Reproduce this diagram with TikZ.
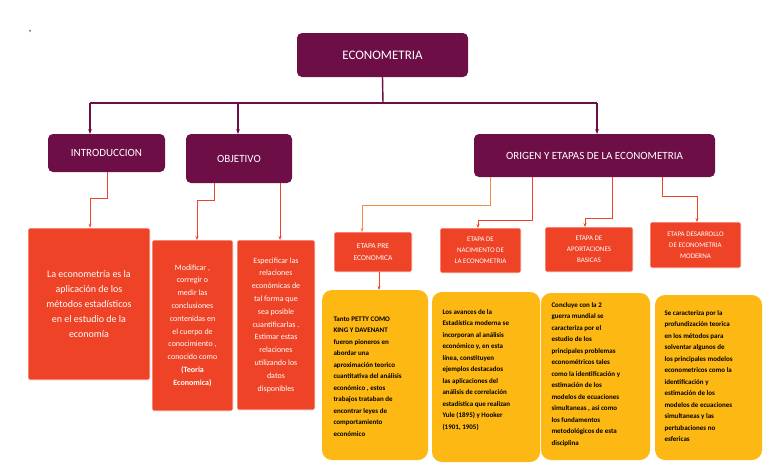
\documentclass[tikz,border=0pt]{standalone}
\usepackage{fontspec}
\setmainfont{Carlito}
\usetikzlibrary{arrows.meta}
\definecolor{mag}{HTML}{6D0E47}
\definecolor{red1}{HTML}{EE4326}
\definecolor{yel}{HTML}{FDB813}
\definecolor{lor}{HTML}{F58A4B}
\tikzset{
 mbox/.style={fill=mag,rounded corners=5pt,text=white,align=center},
 rbox/.style={fill=red1,rounded corners=2pt,text=white,align=center,draw=white,line width=0.6pt},
 ybox/.style={fill=yel,rounded corners=10pt,text=black,align=left,font=\fontsize{7}{11.5}\selectfont\bfseries},
 mline/.style={draw=mag,line width=1.4pt,-{Stealth[length=5pt]}},
 rline/.style={draw=red1,line width=0.8pt,-{Stealth[length=4pt]}},
}
\begin{document}
\begin{tikzpicture}[x=1pt,y=-1pt]
\useasboundingbox[fill=white] (0,0) rectangle (768,466);
\node at (30,32) {,};
% magenta boxes
\node[mbox,minimum width=171pt,minimum height=44pt,font=\fontsize{13}{15}\selectfont] (eco) at (382.5,55) {ECONOMETRIA};
\node[mbox,minimum width=117pt,minimum height=38pt,font=\fontsize{11}{13}\selectfont] (intro) at (106.5,153) {INTRODUCCION};
\node[mbox,minimum width=106pt,minimum height=49pt,font=\fontsize{11}{13}\selectfont] (obj) at (239,158.5) {OBJETIVO};
\node[mbox,minimum width=241pt,minimum height=43pt,font=\fontsize{11}{13}\selectfont] (ori) at (594.5,155.5) {ORIGEN Y ETAPAS DE LA ECONOMETRIA};
% top connectors
\coordinate (j) at (383,103);
\draw[draw=mag,line width=1.4pt] (eco.south) -- (j);
\draw[draw=mag,line width=1.4pt] (90,103) -- (597,103);
\draw[mline] (90,103) -- (90,134);
\draw[mline] (238,103) -- (238,134);
\draw[mline] (597,103) -- (597,134);
% red boxes
\node[rbox,minimum width=122pt,minimum height=152pt,font=\fontsize{10}{15}\selectfont] (r1) at (89,304) {La econometría es la\\aplicación de los\\métodos estadísticos\\en el estudio de la\\economía};
\node[rbox,minimum width=81pt,minimum height=171pt,font=\fontsize{8}{12.8}\selectfont] (r2) at (192.5,325.5) {Modificar ,\\corregir o\\medir las\\conclusiones\\contenidas en\\el cuerpo de\\conocimiento ,\\conocido como\\\textbf{(Teoria}\\\textbf{Economica)}};
\node[rbox,minimum width=78pt,minimum height=170pt,font=\fontsize{8}{12.8}\selectfont] (r3) at (276,325) {Especificar las\\relaciones\\económicas de\\tal forma que\\sea posible\\cuantificarlas .\\Estimar estas\\relaciones\\utilizando los\\datos\\disponibles};
\draw[rline,-] (107,172) -- (107,198) -- (90,198);
\draw[rline] (90,198) -- (r1.north -| 90,0);
\draw[rline,-] (214,183) -- (214,200) -- (197,200);
\draw[rline] (197,200) -- (197,240);
\draw[rline] (280,183) -- (280,240);
% etapa boxes
\node[rbox,minimum width=78pt,minimum height=40pt,font=\fontsize{7.5}{12}\selectfont] (e1) at (373,252) {ETAPA PRE\\ECONOMICA};
\node[rbox,minimum width=81pt,minimum height=45pt,font=\fontsize{7}{11}\selectfont] (e2) at (480.5,250.5) {ETAPA DE\\NACIMIENTO DE\\LA ECONOMETRIA};
\node[rbox,minimum width=88pt,minimum height=45pt,font=\fontsize{7}{11}\selectfont] (e3) at (589,249.5) {ETAPA DE\\APORTACIONES\\BASICAS};
\node[rbox,minimum width=91pt,minimum height=46pt,font=\fontsize{7}{11}\selectfont] (e4) at (695.5,245) {ETAPA DESARROLLO\\DE ECONOMETRIA\\MODERNA};
\draw[draw=lor,line width=0.8pt,-{Stealth[length=4pt]}] (490,177) -- (490,205) -- (362,205) -- (362,232);
\draw[rline] (532,177) -- (532,220) -- (478,220) -- (478,228);
\draw[rline] (612,177) -- (612,218) -- (585,218) -- (585,227);
\draw[rline] (662,177) -- (662,196) -- (697,196) -- (697,222);
% yellow boxes
\node[ybox,minimum width=106pt,minimum height=170pt] (y1) at (375,375) {};
\node[ybox,minimum width=108pt,minimum height=170pt] (y2) at (486,377) {};
\node[ybox,minimum width=109pt,minimum height=167pt] (y3) at (595.5,376.5) {};
\node[ybox,minimum width=107pt,minimum height=165pt] (y4) at (708.5,377.5) {};
\draw[rline] (e1.south -| 379,0) -- (379,290);
\node[ybox,fill=none,anchor=north west] at (330,313) {Tanto PETTY COMO\\KING Y DAVENANT\\fueron pioneros en\\abordar una\\aproximación teorico\\cuantitativa del análisis\\económico , estos\\trabajos trataban de\\encontrar leyes de\\comportamiento\\económico};
\node[ybox,fill=none,anchor=north west] at (439,306) {Los avances de la\\Estadística moderna se\\incorporan al análisis\\económico y, en esta\\línea, constituyen\\ejemplos destacados\\las aplicaciones del\\análisis de correlación\\estadística que realizan\\Yule (1895) y Hooker\\(1901, 1905)};
\node[ybox,fill=none,anchor=north west] at (548,299) {Concluye con la 2\\guerra mundial se\\caracteriza por el\\estudio de los\\principales problemas\\econométricos tales\\como la identificación y\\estimación de los\\modelos de ecuaciones\\simultaneas , asi como\\los fundamentos\\metodológicos de esta\\disciplina};
\node[ybox,fill=none,anchor=north west] at (661,307) {Se caracteriza por la\\profundización teorica\\en los métodos para\\solventar algunos de\\los principales modelos\\econometricos como la\\identificación y\\estimación de los\\modelos de ecuaciones\\simultaneas y las\\pertubaciones no\\esfericas};
\end{tikzpicture}
\end{document}
